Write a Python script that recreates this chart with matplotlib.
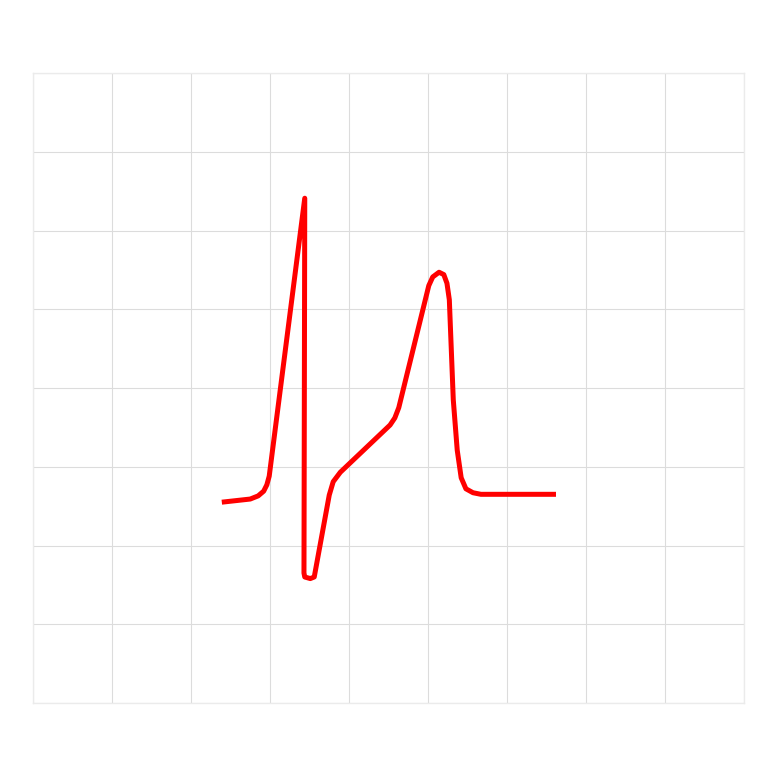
import numpy as np
import matplotlib
matplotlib.use("Agg")
import matplotlib.pyplot as plt

# ECG-like trace, in grid-cell units (x: 0..9, y: 0..8)
t = [2.39, 2.75, 2.85, 2.92, 2.96, 2.99, 3.44, 3.43, 3.44, 3.51, 3.56,
     3.75, 3.80, 3.89, 4.52, 4.58, 4.63, 5.01, 5.06, 5.14, 5.20, 5.24,
     5.27, 5.32, 5.37, 5.42, 5.48, 5.57, 5.67, 6.62]
v = [2.55, 2.59, 2.63, 2.69, 2.77, 2.88, 6.41, 1.65, 1.60, 1.58, 1.60,
     2.64, 2.81, 2.93, 3.53, 3.62, 3.75, 5.30, 5.41, 5.47, 5.44, 5.33,
     5.12, 3.85, 3.21, 2.86, 2.72, 2.67, 2.65, 2.65]

fig = plt.figure(figsize=(7.68, 7.68), dpi=100)
ax = fig.add_axes([33 / 768, 65 / 768, 711 / 768, 630 / 768])

ax.plot(t, v, color="#ff0000", lw=3.6, solid_joinstyle="round",
        solid_capstyle="butt")

ax.set_xlim(0, 9)
ax.set_ylim(0, 8)
ax.set_xticks(np.arange(0, 10, 1))
ax.set_yticks(np.arange(0, 9, 1))
ax.tick_params(length=0, labelbottom=False, labelleft=False)
ax.grid(True, color="#dcdcdc", lw=0.8)
for s in ax.spines.values():
    s.set_color("#ebebeb")
    s.set_linewidth(1.0)

fig.savefig("out.png", dpi=100)
